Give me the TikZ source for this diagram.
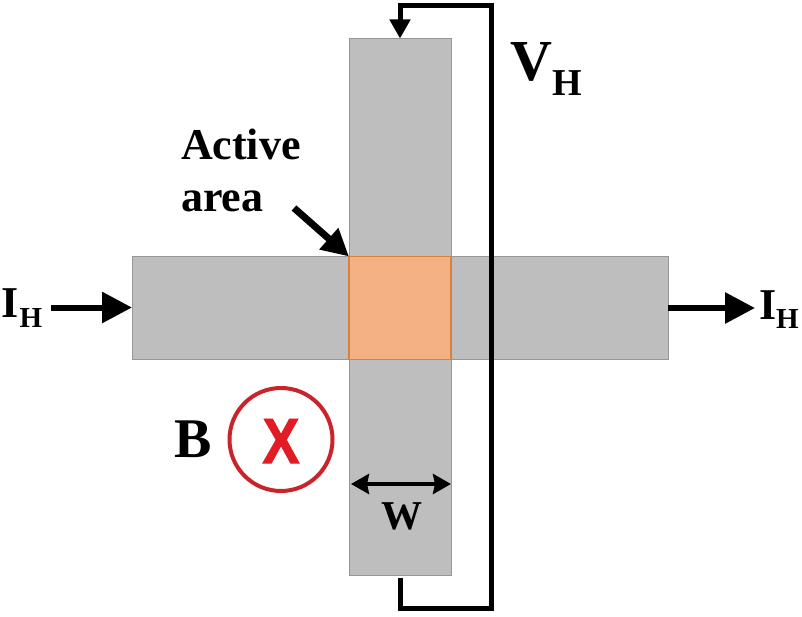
\documentclass[tikz,border=0pt]{standalone}
\usepackage{fontspec}
\setmainfont{Liberation Serif}
\setsansfont{Liberation Sans}
\newfontfamily\xfont[UprightFont={* Bold},FakeBold=1.5]{Liberation Sans}
\usetikzlibrary{arrows.meta}
\definecolor{bargray}{RGB}{190,190,190}
\definecolor{baredge}{RGB}{150,150,150}
\definecolor{activefill}{RGB}{244,177,131}
\definecolor{activeedge}{RGB}{214,130,60}
\definecolor{xred}{RGB}{226,28,38}
\definecolor{ringred}{RGB}{200,36,42}
\newcommand{\fs}[1]{\fontsize{#1pt}{#1pt}\selectfont}
\tikzset{
 x=1pt,y=-1pt,
 bar/.style={fill=bargray,draw=baredge,line width=1pt,inner sep=0,outer sep=0},
 wire/.style={line width=5pt,draw=black,line cap=butt,line join=miter},
 bigarrow/.style={line width=6pt,-{Triangle[length=30pt,width=30pt]}},
 warrow/.style={line width=4.5pt,{Stealth[length=18pt,width=20pt,inset=2pt]}-{Stealth[length=18pt,width=20pt,inset=2pt]}},
 lab/.style={inner sep=0,outer sep=0,text=black},
}
\begin{document}
\begin{tikzpicture}
\useasboundingbox (0,0) rectangle (802,617);
\fill[white] (0,0) rectangle (802,617);
\node[bar,anchor=north west,minimum width=102pt,minimum height=537pt] (vbar) at (349,38.5) {};
\node[bar,anchor=north west,minimum width=536pt,minimum height=103pt] (hbar) at (132,256.5) {};
\node[anchor=north west,fill=activefill,draw=activeedge,line width=1.6pt,minimum width=102pt,minimum height=103pt,inner sep=0,outer sep=0] (active) at (349,256.5) {};
% wire
\coordinate (wtop) at (400,38.5);
\coordinate (wbot) at (400.5,578);
\draw[wire,line cap=butt,-{Triangle[length=19pt,width=20pt]}] (400,5.5) -- (wtop);
\draw[wire] (397.5,5.5) -- (491.5,5.5) -- (491.5,608.5) -- (400.5,608.5) -- (wbot);
% current arrows
\coordinate (ileft) at (51,307.5);
\coordinate (iright) at (755,308);
\draw[bigarrow] (ileft) -- (hbar.west |- ileft);
\draw[bigarrow] (hbar.east |- iright) -- (iright);
% active arrow
\coordinate (astart) at (294,208);
\draw[line width=7pt,-{Triangle[length=27pt,width=27pt]}] (astart) -- (active.north west);
% width
\coordinate (wl) at (351,484);
\coordinate (wr) at (451,484);
\draw[warrow] (wl) -- (wr);
% texts
\node[lab,font=\bfseries\fs{58}] (vh) at (531,62) {V};
\node[lab,font=\bfseries\fs{38}] (vhs) at (567.5,83.5) {H};
\node[lab,font=\bfseries\fs{44},anchor=base west] (aa1) at (181,160) {Active};
\node[lab,font=\bfseries\fs{44},anchor=base west] (aa2) at (181,212) {area};
\node[lab,font=\bfseries\fs{44}] (il) at (10.5,303) {I};
\node[lab,font=\bfseries\fs{29}] (ils) at (31,318) {H};
\node[lab,font=\bfseries\fs{44}] (ir) at (768,305) {I};
\node[lab,font=\bfseries\fs{29}] (irs) at (787.5,319.5) {H};
\node[lab,font=\bfseries\fs{56}] (b) at (193,439) {B};
\node[circle,draw=ringred,line width=4pt,fill=white,minimum size=103pt,inner sep=0] (circ) at (281,439.5) {};
\node[lab,text=xred,font=\xfont\fs{64}] (x) at (281,441) {\scalebox{.87}[1]{X}};
\node[lab,font=\bfseries\fs{41}] (w) at (402,516.5) {W};
\end{tikzpicture}
\end{document}
